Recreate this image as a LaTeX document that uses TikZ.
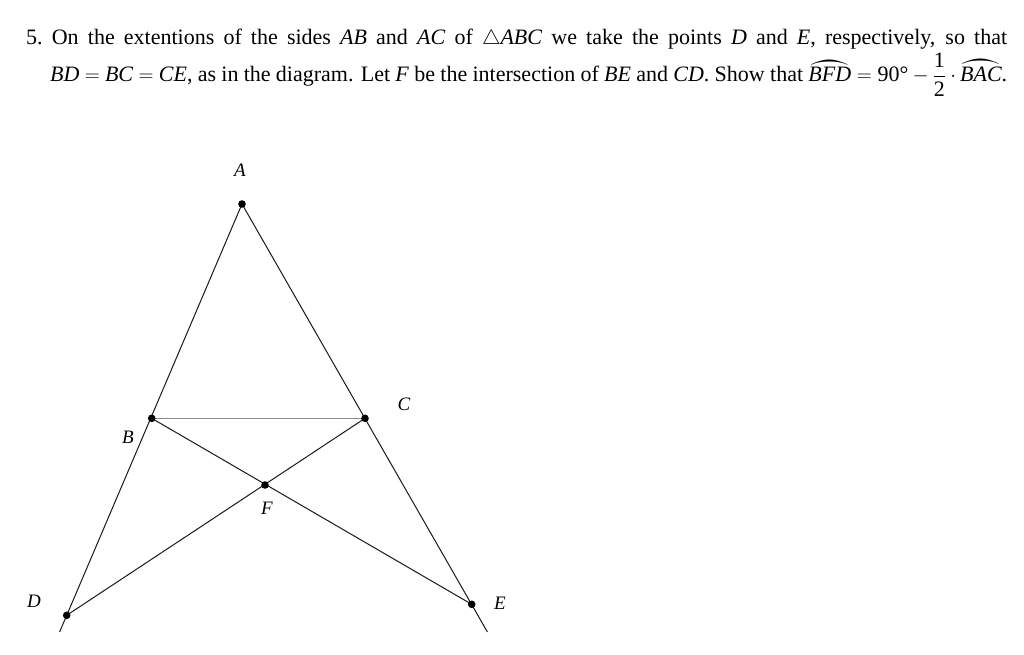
\documentclass[tikz,border=0pt]{standalone}
\usepackage{amsmath}
\usepackage{yhmath}
\usepackage{fontspec}
\setmainfont{Liberation Serif}
\usepackage{tikz}

\tikzset{
  ptdot/.style={fill=black},
  ptlabel/.style={font=\fontsize{19}{21}\selectfont\itshape, inner sep=0pt},
  seg/.style={line width=1pt, black!90},
  probtext/.style={font=\fontsize{22}{26}\selectfont, anchor=base west, inner sep=0pt}
}

\begin{document}
\begin{tikzpicture}[x=1pt, y=-1pt]
        \useasboundingbox (0,0) rectangle (1024,655);
        % Problem statement
        \node[probtext] (line1) at (26,45) {\makebox[981pt][s]{5.\ On the extentions of the sides \textit{AB} and \textit{AC} of $\triangle$\textit{ABC} we take the points \textit{D} and \textit{E}, respectively, so that}};
        \node[probtext] (line2) at (50,82) {\makebox[957pt][s]{\textit{BD} $=$ \textit{BC} $=$ \textit{CE}, as in the diagram. Let \textit{F} be the intersection of \textit{BE} and \textit{CD}. Show that $\wideparen{\textit{BFD}}=\text{90°}-\dfrac{\text{1}}{\text{2}}\cdot\wideparen{\textit{BAC}}$.}};
        
        % Points of the figure
        \coordinate (A) at (242,204);
        \coordinate (B) at (151.7,418.3);
        \coordinate (C) at (365,418.3);
        \coordinate (F) at (265,485);
        \coordinate (D) at (66.7,615.3);
        \coordinate (E) at (471.7,604.3);
        \coordinate (Dend) at (59.6,632);
        \coordinate (Eend) at (487.4,632);
        
        % Sides and segments
        \draw[seg] (A) -- (Dend);
        \draw[seg] (A) -- (Eend);
        \draw[line width=1pt, black!45] (B) -- (C);
        \draw[seg] (B) -- (E);
        \draw[seg] (C) -- (D);
        
        % Dots
        \foreach \p in {A,B,C,D,E,F}
            \fill[ptdot] (\p) circle[radius=3.8pt];
        
        % Labels
        \node[ptlabel] (labA) at (240,170) {A};
        \node[ptlabel] (labB) at (128,437) {B};
        \node[ptlabel] (labC) at (404,404) {C};
        \node[ptlabel] (labF) at (267,508) {F};
        \node[ptlabel] (labD) at (34,601) {D};
        \node[ptlabel] (labE) at (500,603) {E};
    \end{tikzpicture}
\end{document}
